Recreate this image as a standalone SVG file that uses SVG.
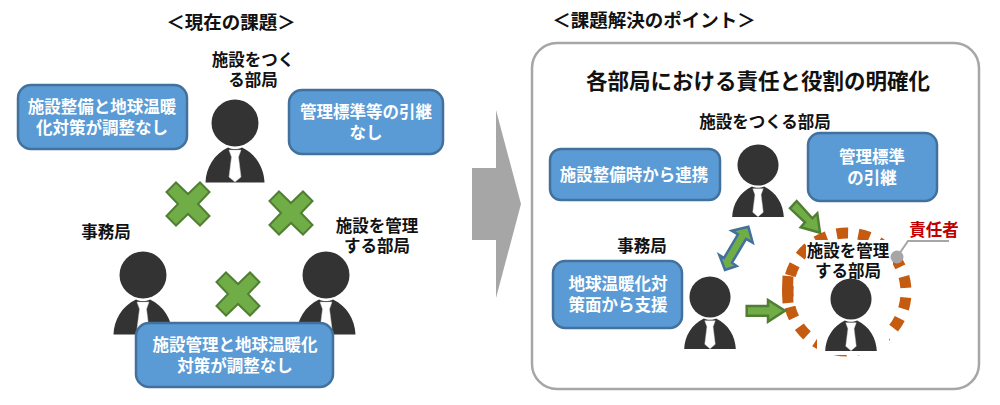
<svg xmlns="http://www.w3.org/2000/svg" width="1000" height="405" viewBox="0 0 1000 405">
<style>
text{font-family:"Liberation Sans","Noto Sans CJK JP",sans-serif;font-weight:700;text-anchor:middle}
.l{font-size:16.5px;fill:#111}
.t{font-size:18.500px;fill:#111}
.b{font-size:16.5px;fill:#fff}
.box{fill:#5b9bd5;stroke:#41719c;stroke-width:2.5}
.x{fill:#70ad47;stroke:#507e32;stroke-width:2}
.ar{fill:#70ad47;stroke:#507e32;stroke-width:2.5}
</style>
<defs>
<g id="p">
<circle r="23.5" fill="#333"/>
<path d="M-29.500 59.500C-29 45-21 31-7 24.500C-3 26.500 3 26.500 7 24.500C21 31 29 45 29.500 59.500Z" fill="#333"/>
<path d="M-6 27H6L3.500 34L6 54L0 59L-6 54L-3.500 34Z" fill="#fff" stroke="#ccc" stroke-width=".5"/>
</g>
<path id="c" d="M-12-21.500L0-10L12-21.500L21.500-12L10 0L21.500 12L12 21.500L0 10L-12 21.500L-21.500 12L-10 0L-21.500-12Z"/>
</defs>
<rect width="1000" height="405" fill="#fff"/>
<text x="231" y="29" class="t">＜現在の課題＞</text>
<text x="654" y="27" class="t">＜課題解決のポイント＞</text>
<g id="node-left-top"><text y="66" class="l"><tspan x="253">施設をつく</tspan><tspan x="253" dy="19.500">る部局</tspan></text><use href="#p" x="235" y="123"/></g>
<g id="node-left-a"><rect x="18" y="85" width="169" height="64" rx="13" class="box"/><text y="113" class="b"><tspan x="102">施設整備と地球温暖</tspan><tspan x="102" dy="20.500">化対策が調整なし</tspan></text></g>
<g id="node-left-b"><rect x="289" y="90" width="154" height="64" rx="13" class="box"/><text y="118" class="b"><tspan x="366">管理標準等の引継</tspan><tspan x="366" dy="21">なし</tspan></text></g>
<g id="cross-marks" class="x"><use href="#c" x="188" y="204"/><use href="#c" x="291" y="213"/><use href="#c" x="238" y="294"/></g>
<g id="node-left-jimu"><text x="106" y="238" class="l">事務局</text><use href="#p" x="143" y="275"/></g>
<g id="node-left-kanri"><text y="232" class="l"><tspan x="377">施設を管理</tspan><tspan x="377" dy="20">する部局</tspan></text><use href="#p" x="326" y="275"/></g>
<g id="node-left-c"><rect x="136" y="323" width="197" height="64" rx="13" class="box"/><text y="351" class="b"><tspan x="235">施設管理と地球温暖化</tspan><tspan x="235" dy="21">対策が調整なし</tspan></text></g>
<path id="big-arrow" d="M472 168H496V110L521 204L496 298V240H472Z" fill="#a6a6a6"/>
<rect id="panel" x="532" y="43" width="447" height="346" rx="25" fill="#fff" stroke="#a6a6a6" stroke-width="2.500"/>
<text x="758" y="89" style="font-size:21.500px" fill="#111">各部局における責任と役割の明確化</text>
<g id="node-right-a"><rect x="550" y="149" width="170" height="51" rx="11" class="box"/><text x="634" y="181" class="b">施設整備時から連携</text></g>
<g id="node-right-b"><rect x="808" y="133" width="129" height="68" rx="12" class="box"/><text y="163" class="b"><tspan x="872">管理標準</tspan><tspan x="872" dy="21">の引継</tspan></text></g>
<g id="node-right-top"><text x="765" y="128" class="l">施設をつくる部局</text><g transform="translate(758 165) scale(.875)"><use href="#p"/></g></g>
<g id="responsible"><circle cx="847" cy="292" r="59" fill="none" stroke="#c55a11" stroke-width="11" stroke-dasharray="11.500 10.300" stroke-dashoffset="-5.600"/>
<path d="M788 276Q787 290 788 303" fill="none" stroke="#c55a11" stroke-width="11"/>
<rect x="806" y="240" width="87" height="40" fill="#fff"/><rect x="817" y="296" width="72" height="59" fill="#fff"/>
<path d="M897 257L908 241H949" fill="none" stroke="#a6a6a6" stroke-width="2"/><circle cx="897" cy="257" r="6.500" fill="#a6a6a6"/>
<text x="934" y="236" style="font-size:16.500px" fill="#c00000">責任者</text></g>
<g id="node-right-kanri"><text y="257" class="l"><tspan x="848">施設を管理</tspan><tspan x="848" dy="20">する部局</tspan></text><g transform="translate(851 299) scale(.875)"><use href="#p"/></g></g>
<g id="node-right-jimu"><text x="642" y="252" class="l">事務局</text><rect x="553" y="261" width="129" height="67" rx="12" class="box"/><text y="290" class="b"><tspan x="618">地球温暖化対</tspan><tspan x="618" dy="21">策面から支援</tspan></text><g transform="translate(710 297) scale(.875)"><use href="#p"/></g></g>
<g id="connectors">
<path class="ar" d="M796.700 201L790 208.300L805 222.300L800.700 227.300L820 232.700L817.300 213.300L812.300 218.300Z"/>
<path class="ar" style="stroke:#41719c" d="M748.300 226.700L752.700 242.700L746 239L732 262.700L736.700 266L725 270L719.300 255L724 258L738 234.300L731.700 230.700Z"/>
<path class="ar" d="M746.700 306H768V300L785 310.700L768 321.700V315.700H746.700Z"/>
</g>
</svg>
